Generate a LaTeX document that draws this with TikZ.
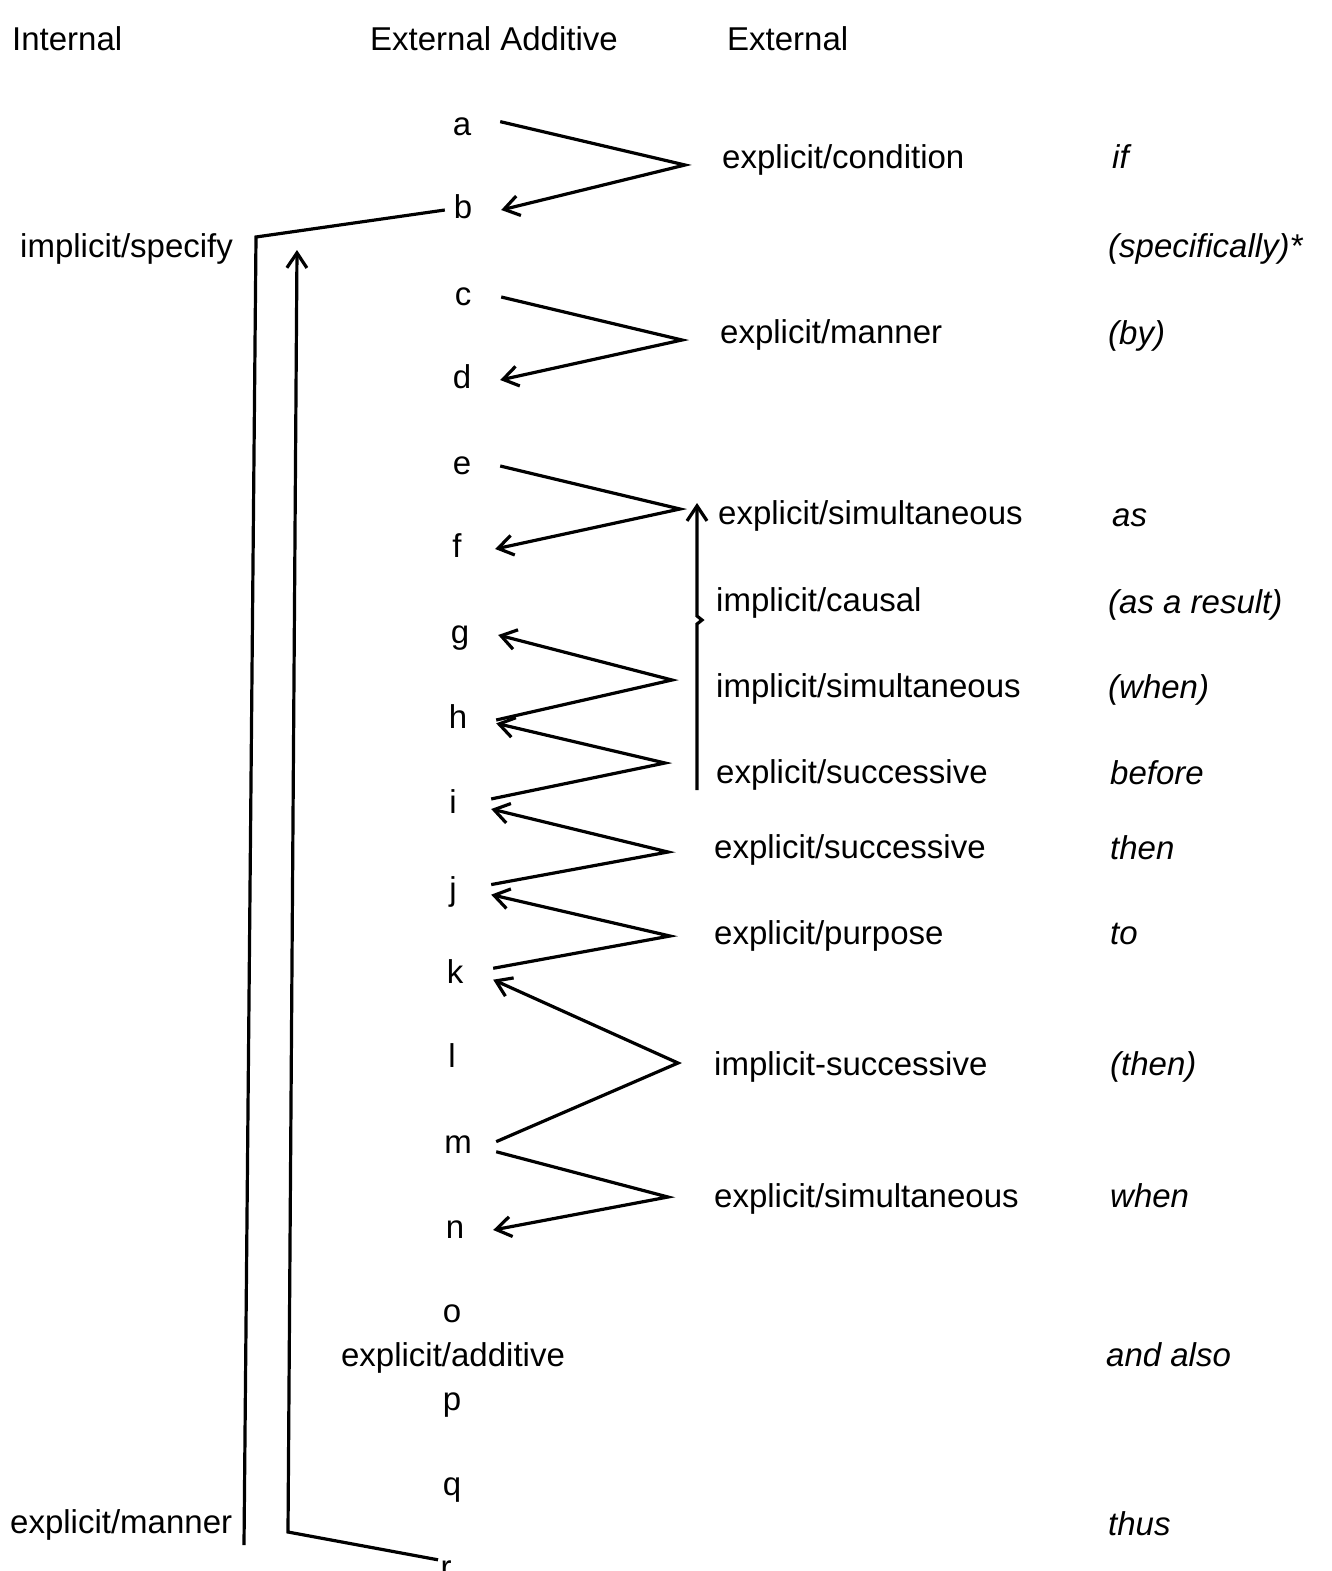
\documentclass[tikz,border=0pt]{standalone}
\usepackage{fontspec}
\setmainfont{Liberation Sans}
\usetikzlibrary{arrows.meta}
\usetikzlibrary{positioning}

\begin{document}
\begin{tikzpicture}[x=1pt,y=-1pt,
  lbl/.style={anchor=west,inner sep=2pt,text height=23pt,text depth=7pt,font=\fontsize{33}{38}\selectfont},
  conn/.style={lbl,font=\fontsize{33}{38}\selectfont\itshape},
  let/.style={minimum width=76pt,inner sep=3pt,text height=23pt,text depth=7pt,font=\fontsize{33}{38}\selectfont},
  link/.style={line width=3.2pt},
  >={Straight Barb[length=15pt,width=20pt]}]
\path[fill=white,use as bounding box] (0,0) rectangle (1331,1571);

% column heads
\node[lbl] (hint) at (10,43) {Internal};
\node[lbl] (hadd) at (368,43) {External Additive};
\node[lbl] (hext) at (725,43) {External};

% clauses
\foreach \n/\x/\y in {a/462/127,b/463/210,c/463/297,d/462/380,e/462/466,f/457/549,
  g/460/635,h/458/720,i/453/805,j/453/892,k/455/975,l/452/1059,m/458/1145,
  n/455/1230,o/452/1314,p/452/1402,q/452/1487,r/446/1570} {
  \node[let] (\n) at (\x,\y) {\n};
}

% internal
\node[lbl] (ispec) at (18,249) {implicit/specify};
\node[lbl] (emann) at (8,1525) {explicit/manner};

% external additive
\node[let] (eadd) at (453,1358) {explicit/additive};

% external
\node[lbl] (econd) at (720,160) {explicit/condition};
\node[lbl] (emanr) at (718,335) {explicit/manner};
\node[lbl] (esim) at (716,516) {explicit/simultaneous};
\node[lbl] (icaus) at (714,603) {implicit/causal};
\node[lbl] (isim) at (714,689) {implicit/simultaneous};
\node[lbl] (esuc) at (714,775) {explicit/successive};
\node[lbl] (esucb) at (712,850) {explicit/successive};
\node[lbl] (epurp) at (712,936) {explicit/purpose};
\node[lbl] (isuc) at (712,1067) {implicit-successive};
\node[lbl] (esimb) at (712,1199) {explicit/simultaneous};

% connectives
\node[conn] (cif) at (1110,160) {if};
\node[conn] (cspec) at (1106,249) {(specifically)*};
\node[conn] (cby) at (1106,336) {(by)};
\node[conn] (cas) at (1110,518) {as};
\node[conn] (cres) at (1106,605) {(as a result)};
\node[conn] (cwhen) at (1106,690) {(when)};
\node[conn] (cbef) at (1108,776) {before};
\node[conn] (cthen) at (1108,851) {then};
\node[conn] (cto) at (1108,936) {to};
\node[conn] (cthenb) at (1108,1067) {(then)};
\node[conn] (cwhenb) at (1108,1199) {when};
\node[conn] (calso) at (1104,1358) {and also};
\node[conn] (cthus) at (1106,1527) {thus};

% apexes
\coordinate (pab) at (685,165);
\coordinate (pcd) at (682,340);
\coordinate (pef) at (680,509);
\coordinate (pgh) at (672,680);
\coordinate (phi) at (665,763);
\coordinate (pij) at (668,852);
\coordinate (pjk) at (670,936);
\coordinate (pkm) at (678,1063);
\coordinate (pmn) at (668,1197);

\draw[link,->] (a.8) -- (pab) -- (b.east);
\draw[link,->] (c.east) -- (pcd) -- (d.east);
\draw[link,->] (e.east) -- (pef) -- (f.east);
\draw[link,->] (h.east) -- (pgh) -- (g.east);
\draw[link,->] (i.9) -- (phi) -- (h.-5);
\draw[link,->] (j.11) -- (pij) -- (i.-6);
\draw[link,->] (k.10) -- (pjk) -- (j.-4);
\draw[link,->] (m.5) -- (pkm) -- (k.-7);
\draw[link,->] (m.-10) -- (pmn) -- (n.east);

% external chain
\coordinate (vlo) at (697,790);
\coordinate (vhi) at (697,503);
\draw[link,->] (vlo) -- (697,624) -- ++(5,-4) -- ++(-5,-4) -- (vhi);

% internal links
\coordinate (sp1) at (256,237);
\coordinate (sp2) at (244,1545);
\draw[link] ([xshift=20pt]b.west) -- (sp1) -- (sp2);
\coordinate (mn1) at (288,1532);
\coordinate (mn2) at (297,250);
\draw[link,->] ([shift={(-8,8)}]r.north) -- (mn1) -- (mn2);
\end{tikzpicture}
\end{document}
